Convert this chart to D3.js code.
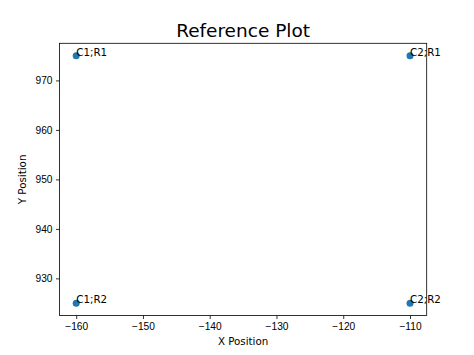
<!DOCTYPE html>
<html>
<head>
<meta charset="utf-8">
<script src="https://cdn.jsdelivr.net/npm/d3@7"></script>
<style>
  body { margin: 0; background: #fff; }
  svg { display: block; font-family: "DejaVu Sans", sans-serif; }
</style>
</head>
<body>
<div id="chart"></div>
<script>
// data
var labels = ["C1;R1", "C2;R1", "C1;R2", "C2;R2"];
var xValues = [-160, -110, -160, -110];
var yValues = [975, 975, 925, 925];
var xTicks = [-160, -150, -140, -130, -120, -110];
var yTicks = [930, 940, 950, 960, 970];

var width = 474, height = 355;
var margin = {left: 59.5, right: 47.3, top: 43.3, bottom: 39.5};
var innerW = width - margin.left - margin.right;
var innerH = height - margin.top - margin.bottom;

var svg = d3.select("#chart").append("svg")
	.attr("width", width)
	.attr("height", height);

var g = svg.append("g")
	.attr("transform", "translate(" + margin.left + "," + margin.top + ")");

// matplotlib style 5% padding around the data
var xScale = d3.scaleLinear().domain([-162.5, -107.5]).range([0, innerW]);
var yScale = d3.scaleLinear().domain([922.5, 977.5]).range([innerH, 0]);

var xAxis = d3.axisBottom(xScale).tickValues(xTicks).tickSize(3.5).tickPadding(3.5);
var yAxis = d3.axisLeft(yScale).tickValues(yTicks).tickSize(3.5).tickPadding(3.5);

g.append("g")
	.attr("transform", "translate(0," + innerH + ")")
	.call(xAxis)
	.call(function(a){ a.select(".domain").remove(); });
g.append("g")
	.call(yAxis)
	.call(function(a){ a.select(".domain").remove(); });

g.selectAll(".tick text").attr("font-size", "10.2px").attr("fill", "#000");
g.selectAll(".tick line").attr("stroke", "#000").attr("stroke-width", 0.8);

// frame
g.append("rect")
	.attr("x", 0).attr("y", 0)
	.attr("width", innerW).attr("height", innerH)
	.attr("fill", "none")
	.attr("stroke", "#000")
	.attr("stroke-width", 0.8);

// points
var idx = d3.range(labels.length);
g.selectAll("circle.pt")
	.data(idx)
	.enter().append("circle")
	.attr("class", "pt")
	.attr("cx", function(i){ return xScale(xValues[i]); })
	.attr("cy", function(i){ return yScale(yValues[i]); })
	.attr("r", 3.5)
	.attr("fill", "#1f77b4");

// labels sit with baseline at the point
g.selectAll("text.lbl")
	.data(idx)
	.enter().append("text")
	.attr("class", "lbl")
	.attr("x", function(i){ return xScale(xValues[i]); })
	.attr("y", function(i){ return yScale(yValues[i]); })
	.attr("font-size", "10.3px")
	.attr("fill", "#000")
	.text(function(i){ return labels[i]; });

// title and axis labels
svg.append("text")
	.attr("x", margin.left + innerW / 2)
	.attr("y", 36.5)
	.attr("text-anchor", "middle")
	.attr("font-size", "18.5px")
	.text("Reference Plot");

svg.append("text")
	.attr("x", margin.left + innerW / 2)
	.attr("y", 345)
	.attr("text-anchor", "middle")
	.attr("font-size", "10.3px")
	.text("X Position");

svg.append("text")
	.attr("transform", "translate(26," + (margin.top + innerH / 2) + ") rotate(-90)")
	.attr("text-anchor", "middle")
	.attr("font-size", "10.3px")
	.text("Y Position");
</script>
</body>
</html>
